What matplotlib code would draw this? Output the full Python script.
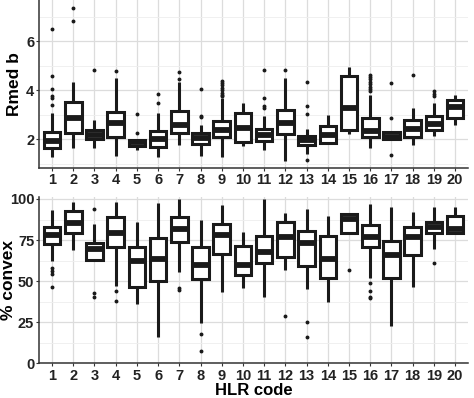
import matplotlib
matplotlib.use("Agg")
import matplotlib.pyplot as plt
from matplotlib.ticker import MultipleLocator

plt.rcParams["font.family"] = ["Liberation Sans", "DejaVu Sans"]
plt.rcParams["font.weight"] = "bold"

codes = list(range(1, 21))

# top panel: Rmed b
rmed_whislo = [1.27, 1.65, 1.67, 1.31, 1.58, 1.27, 1.76, 1.31, 1.27, 1.74,
               1.58, 1.14, 1.40, 1.83, 2.22, 1.67, 1.99, 1.76, 2.15, 2.60]
rmed_q1 = [1.66, 2.26, 2.02, 2.11, 1.74, 1.71, 2.26, 1.81, 2.10, 1.88,
           1.92, 2.22, 1.77, 1.85, 2.40, 2.12, 2.03, 2.12, 2.40, 2.86]
rmed_med = [1.92, 2.87, 2.20, 2.67, 1.88, 2.02, 2.60, 2.06, 2.40, 2.47,
            2.19, 2.67, 1.99, 2.19, 3.28, 2.36, 2.12, 2.42, 2.64, 3.31]
rmed_q3 = [2.31, 3.53, 2.40, 3.12, 1.99, 2.36, 3.17, 2.26, 2.76, 3.08,
           2.44, 3.18, 2.16, 2.56, 4.57, 2.87, 2.30, 2.80, 2.94, 3.59]
rmed_whishi = [3.08, 4.33, 2.80, 4.49, 1.99, 3.08, 4.36, 2.60, 3.69, 3.49,
               2.94, 4.49, 2.42, 3.01, 4.96, 3.80, 2.30, 3.28, 3.49, 3.82]
rmed_out = [
    [3.42, 3.70, 3.76, 4.06, 4.57, 6.50],
    [6.82, 7.35],
    [4.82],
    [4.80],
    [2.26, 3.02],
    [3.49, 3.87],
    [4.48, 4.73],
    [2.90, 2.94, 4.06],
    [3.76, 3.82, 3.90, 4.00, 4.10, 4.20, 4.30, 4.37],
    [],
    [3.30, 3.35, 3.67, 4.82],
    [4.83],
    [1.17, 3.05, 3.38, 4.36],
    [],
    [],
    [3.96, 4.05, 4.15, 4.25, 4.35, 4.45, 4.55, 4.63],
    [1.36, 2.87, 4.30],
    [4.63],
    [3.76, 3.87, 3.96],
    [],
]

# bottom panel: % convex
conv_whislo = [62.3, 68.7, 62.9, 46.9, 36.3, 15.8, 55.3, 24.7, 43.7, 45.9,
               40.3, 56.7, 45.3, 37.6, 78.8, 51.7, 22.8, 46.3, 69.8, 79.4]
conv_q1 = [72.8, 79.4, 62.9, 70.7, 46.3, 49.9, 74.0, 51.3, 66.7, 53.7,
           61.3, 64.7, 59.3, 51.9, 79.4, 70.7, 51.7, 65.9, 79.0, 79.4]
conv_med = [77.8, 85.4, 69.3, 79.4, 62.3, 63.3, 81.8, 59.9, 77.9, 59.7,
            67.7, 77.0, 73.4, 63.7, 88.0, 76.7, 65.7, 76.7, 82.7, 81.8]
conv_q3 = [83.0, 92.8, 73.4, 88.8, 70.7, 76.4, 89.0, 71.0, 84.8, 71.3,
           77.3, 85.8, 80.3, 77.3, 90.8, 83.9, 74.7, 83.0, 86.0, 89.4]
conv_whishi = [93.0, 98.2, 84.8, 98.2, 86.0, 97.8, 100.0, 86.9, 96.4, 80.0,
               100.0, 91.4, 94.0, 89.4, 91.4, 97.0, 95.4, 92.0, 94.8, 95.4]
conv_out = [
    [46.3, 54.3, 56.3, 57.9],
    [],
    [40.6, 42.9, 94.0],
    [37.9, 43.9],
    [],
    [],
    [44.8, 45.9],
    [7.8, 17.8],
    [],
    [],
    [],
    [28.6],
    [16.4, 25.3],
    [],
    [56.7],
    [39.7, 40.6, 44.3, 48.7],
    [],
    [],
    [60.9],
    [],
]


def make_stats(lo, q1, med, q3, hi, out):
    return [dict(whislo=a, q1=b, med=c, q3=d, whishi=e, fliers=f)
            for a, b, c, d, e, f in zip(lo, q1, med, q3, hi, out)]


def style_axis(ax, major, minor):
    ax.set_xlim(0.4, 20.6)
    ax.set_xticks(codes)
    ax.set_xticklabels([str(c) for c in codes])
    ax.yaxis.set_major_locator(MultipleLocator(major))
    ax.yaxis.set_minor_locator(MultipleLocator(minor))
    ax.grid(True, which="major", color="#dcdcdc", lw=0.9)
    ax.grid(True, which="minor", axis="y", color="#eeeeee", lw=0.6)
    ax.set_axisbelow(True)
    for s in ["top", "right"]:
        ax.spines[s].set_visible(False)
    for s in ["left", "bottom"]:
        ax.spines[s].set_color("#333333")
        ax.spines[s].set_linewidth(1.1)
    ax.tick_params(which="major", length=2.5, width=0.8, color="#333333",
                   labelsize=10.5, labelcolor="#222222", pad=1.2)
    ax.tick_params(which="minor", length=0)


def draw(ax, stats):
    ax.bxp(stats, positions=codes, widths=0.78, showcaps=False,
           patch_artist=True,
           boxprops=dict(facecolor="white", edgecolor="#1a1a1a", linewidth=2.2),
           whiskerprops=dict(color="#1a1a1a", linewidth=2.2, solid_capstyle="butt"),
           medianprops=dict(color="#1a1a1a", linewidth=4.2, solid_capstyle="butt"),
           flierprops=dict(marker="o", markersize=1.8, markerfacecolor="#1a1a1a",
                           markeredgecolor="#1a1a1a"))


fig = plt.figure(figsize=(4.74, 3.98), dpi=100)
ax1 = fig.add_axes([0.083, 0.578, 0.904, 0.422])
ax2 = fig.add_axes([0.083, 0.0867, 0.904, 0.4176])

draw(ax1, make_stats(rmed_whislo, rmed_q1, rmed_med, rmed_q3, rmed_whishi, rmed_out))
style_axis(ax1, 2, 1)
ax1.set_ylim(0.84, 7.68)
ax1.set_ylabel("Rmed b", fontsize=12.5, fontweight="bold", va="center")
ax1.yaxis.set_label_coords(-0.057, 0.5)

draw(ax2, make_stats(conv_whislo, conv_q1, conv_med, conv_q3, conv_whishi, conv_out))
style_axis(ax2, 25, 12.5)
ax2.set_ylim(0, 101)
ax2.set_ylabel("% convex", fontsize=12.5, fontweight="bold", va="center")
ax2.yaxis.set_label_coords(-0.071, 0.5)
ax2.set_xlabel("HLR code", fontsize=12, fontweight="bold", va="bottom")
ax2.xaxis.set_label_coords(0.5, -0.206)

fig.savefig("out.png", dpi=100)
